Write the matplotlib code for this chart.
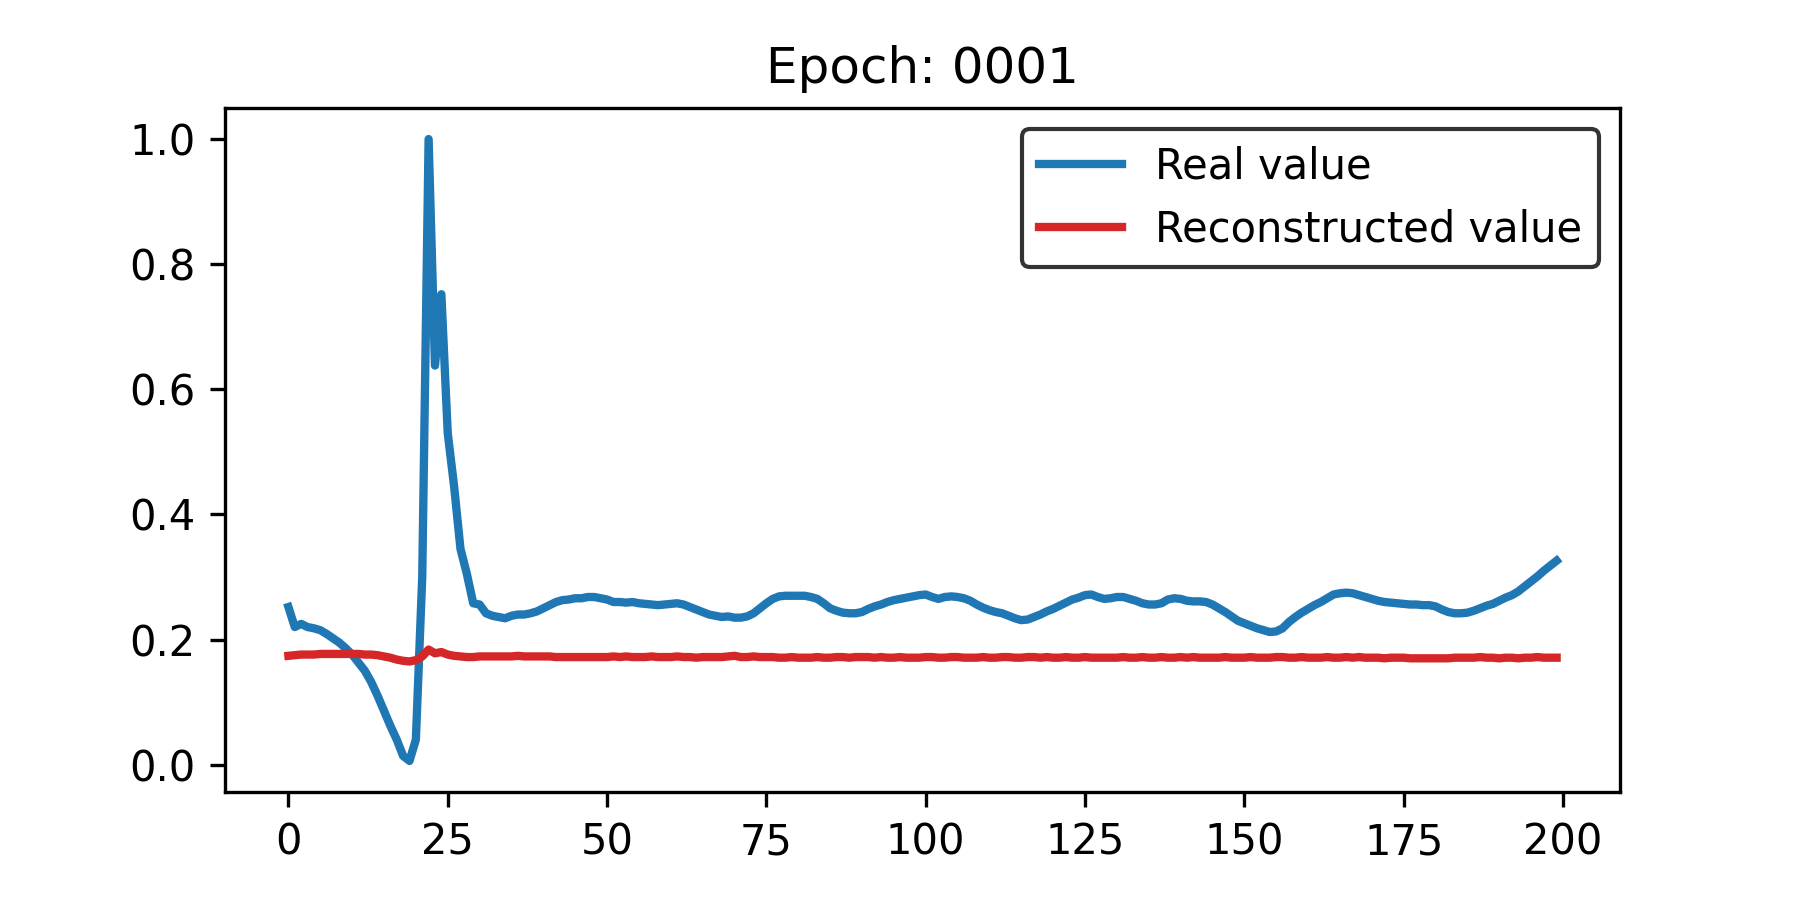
import numpy as np
import matplotlib
matplotlib.use("Agg")
import matplotlib.pyplot as plt

# --- values ---
title_text = "Epoch: 0001"
real_label = "Real value"
recon_label = "Reconstructed value"

real_values = [
    0.252, 0.220, 0.225, 0.220, 0.218, 0.215, 0.209, 0.202, 0.195, 0.186,
    0.176, 0.163, 0.150, 0.132, 0.110, 0.086, 0.062, 0.040, 0.014, 0.006,
    0.040, 0.300, 1.000, 0.638, 0.752, 0.530, 0.445, 0.345, 0.305, 0.258,
    0.256, 0.242, 0.238, 0.236, 0.234, 0.238, 0.240, 0.240, 0.242, 0.245,
    0.250, 0.255, 0.260, 0.263, 0.264, 0.266, 0.266, 0.268, 0.268, 0.266,
    0.264, 0.260, 0.260, 0.259, 0.260, 0.258, 0.257, 0.256, 0.255, 0.256,
    0.257, 0.258, 0.256, 0.252, 0.248, 0.244, 0.240, 0.238, 0.236, 0.237,
    0.235, 0.235, 0.237, 0.242, 0.250, 0.258, 0.265, 0.269, 0.270, 0.270,
    0.270, 0.270, 0.268, 0.265, 0.258, 0.250, 0.246, 0.243, 0.242, 0.242,
    0.244, 0.249, 0.253, 0.256, 0.260, 0.263, 0.265, 0.267, 0.269, 0.271,
    0.272, 0.268, 0.265, 0.268, 0.269, 0.268, 0.266, 0.262, 0.256, 0.251,
    0.247, 0.244, 0.242, 0.238, 0.234, 0.231, 0.232, 0.236, 0.240, 0.245,
    0.249, 0.254, 0.259, 0.264, 0.267, 0.271, 0.272, 0.268, 0.265, 0.266,
    0.268, 0.268, 0.265, 0.262, 0.258, 0.256, 0.256, 0.258, 0.264, 0.266,
    0.265, 0.262, 0.261, 0.261, 0.260, 0.256, 0.250, 0.244, 0.237, 0.230,
    0.226, 0.222, 0.218, 0.215, 0.212, 0.213, 0.218, 0.228, 0.236, 0.243,
    0.249, 0.255, 0.260, 0.266, 0.272, 0.274, 0.275, 0.274, 0.271, 0.268,
    0.265, 0.262, 0.260, 0.259, 0.258, 0.257, 0.256, 0.256, 0.255, 0.255,
    0.253, 0.248, 0.244, 0.242, 0.242, 0.243, 0.246, 0.250, 0.254, 0.257,
    0.262, 0.267, 0.271, 0.277, 0.285, 0.293, 0.301, 0.310, 0.318, 0.326,
]

recon_values = [
    0.174, 0.175, 0.176, 0.176, 0.176, 0.177, 0.177, 0.177, 0.177, 0.177,
    0.177, 0.177, 0.176, 0.176, 0.175, 0.173, 0.171, 0.168, 0.166, 0.165,
    0.167, 0.173, 0.184, 0.178, 0.180, 0.176, 0.174, 0.173, 0.172, 0.172,
    0.173, 0.173, 0.173, 0.173, 0.173, 0.173, 0.174, 0.173, 0.173, 0.173,
    0.173, 0.173, 0.172, 0.172, 0.172, 0.172, 0.172, 0.172, 0.172, 0.172,
    0.172, 0.173, 0.172, 0.173, 0.172, 0.172, 0.172, 0.173, 0.172, 0.172,
    0.172, 0.173, 0.172, 0.172, 0.171, 0.172, 0.172, 0.172, 0.172, 0.173,
    0.174, 0.172, 0.172, 0.173, 0.172, 0.172, 0.172, 0.171, 0.171, 0.172,
    0.171, 0.171, 0.171, 0.172, 0.171, 0.171, 0.172, 0.172, 0.171, 0.172,
    0.172, 0.172, 0.171, 0.172, 0.171, 0.171, 0.172, 0.171, 0.171, 0.171,
    0.172, 0.172, 0.171, 0.171, 0.172, 0.172, 0.171, 0.171, 0.171, 0.172,
    0.171, 0.171, 0.172, 0.172, 0.171, 0.171, 0.172, 0.172, 0.171, 0.172,
    0.171, 0.171, 0.172, 0.171, 0.171, 0.172, 0.171, 0.171, 0.171, 0.171,
    0.171, 0.172, 0.171, 0.171, 0.172, 0.171, 0.171, 0.172, 0.171, 0.171,
    0.172, 0.171, 0.172, 0.171, 0.171, 0.171, 0.171, 0.172, 0.171, 0.171,
    0.171, 0.172, 0.171, 0.171, 0.171, 0.172, 0.172, 0.171, 0.171, 0.172,
    0.171, 0.171, 0.171, 0.172, 0.171, 0.171, 0.172, 0.171, 0.172, 0.171,
    0.171, 0.171, 0.170, 0.171, 0.171, 0.171, 0.170, 0.170, 0.170, 0.170,
    0.170, 0.170, 0.170, 0.171, 0.171, 0.171, 0.171, 0.172, 0.171, 0.171,
    0.170, 0.171, 0.171, 0.170, 0.171, 0.171, 0.172, 0.171, 0.171, 0.171,
]

steps = np.arange(len(real_values))

fig, ax = plt.subplots(figsize=(6, 3), dpi=300)
fig.subplots_adjust(left=0.125, right=0.9, top=0.88, bottom=0.12)

ax.plot(steps, real_values, color="#1f77b4", linewidth=2, label=real_label)
ax.plot(steps, recon_values, color="#d62728", linewidth=2, label=recon_label)

ax.set_title(title_text, fontsize=12)
ax.set_xticks([0, 25, 50, 75, 100, 125, 150, 175, 200])
ax.set_yticks([0.0, 0.2, 0.4, 0.6, 0.8, 1.0])
ax.tick_params(labelsize=10)

leg = ax.legend(loc="upper right", fontsize=10, fancybox=True, framealpha=1.0)
leg.get_frame().set_edgecolor("0.2")
leg.get_frame().set_linewidth(1.0)

fig.savefig("out.png", dpi=300)
